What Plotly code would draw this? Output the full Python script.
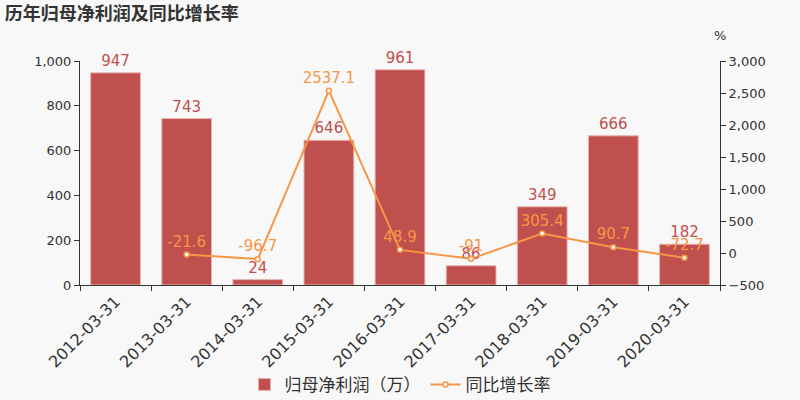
import plotly.graph_objects as go

dates = ["2012-03-31", "2013-03-31", "2014-03-31", "2015-03-31", "2016-03-31",
         "2017-03-31", "2018-03-31", "2019-03-31", "2020-03-31"]
profit = [947, 743, 24, 646, 961, 86, 349, 666, 182]
growth = [None, -21.6, -96.7, 2537.1, 48.9, -91, 305.4, 90.7, -72.7]
growth_text = ["", "-21.6", "-96.7", "2537.1", "48.9", "-91", "305.4", "90.7", "-72.7"]

bar_color = "#c0504d"
line_color = "#f79646"
font_fam = "DejaVu Sans, Noto Sans CJK SC, sans-serif"
cjk = "Noto Sans CJK SC, sans-serif"

fig = go.Figure()
fig.add_trace(go.Bar(
    x=dates, y=profit, name="归母净利润（万）",
    marker=dict(color=bar_color, line=dict(color="#e8b4b2", width=1)),
    text=[str(v) for v in profit], textposition="outside",
    textfont=dict(color=bar_color, size=15, family=font_fam),
    cliponaxis=False,
))
fig.add_trace(go.Scatter(
    x=dates, y=growth, name="同比增长率", yaxis="y2",
    mode="lines+markers+text",
    line=dict(color=line_color, width=2),
    marker=dict(color="white", size=5, line=dict(color=line_color, width=1.5)),
    text=growth_text, textposition="top center",
    textfont=dict(color=line_color, size=15, family=font_fam),
    cliponaxis=False,
))

fig.update_layout(
    width=800, height=400,
    paper_bgcolor="#f8f8f8", plot_bgcolor="#f8f8f8",
    margin=dict(l=80, r=80, t=61, b=115, autoexpand=False),
    font=dict(family=font_fam, color="#333333", size=13),
    bargap=0.3,
    showlegend=True,
    legend=dict(orientation="h", x=0.5, xanchor="center", y=-0.446, yanchor="middle",
                font=dict(size=17, family=cjk, color="#333333"),
                bgcolor="rgba(0,0,0,0)"),
    title=dict(text="<b>历年归母净利润及同比增长率</b>", x=0.006, xanchor="left",
               y=0.965, yanchor="middle",
               font=dict(size=18, family=cjk, color="#333333")),
    xaxis=dict(type="category", tickangle=-45, tickson="boundaries", automargin=False,
               ticks="outside", ticklen=5, tickcolor="#333333",
               showline=True, linecolor="#333333", linewidth=1,
               showgrid=False, tickfont=dict(size=16, color="#333333")),
    yaxis=dict(range=[0, 1000], tickvals=[0, 200, 400, 600, 800, 1000], automargin=False,
               tickformat=",", ticks="outside", ticklen=5, tickcolor="#333333",
               showline=True, linecolor="#333333", linewidth=1,
               showgrid=False, zeroline=False, tickfont=dict(size=13, color="#333333")),
    yaxis2=dict(range=[-500, 3000], tickvals=[-500, 0, 500, 1000, 1500, 2000, 2500, 3000],
                automargin=False,
                tickformat=",", overlaying="y", side="right",
                ticks="outside", ticklen=5, tickcolor="#333333",
                showline=True, linecolor="#333333", linewidth=1,
                showgrid=False, zeroline=False, tickfont=dict(size=13, color="#333333")),
    annotations=[dict(text="%", xref="paper", yref="paper", x=1.0, y=1.07,
                      xanchor="center", yanchor="bottom", showarrow=False,
                      font=dict(size=13, color="#333333"))],
)

fig.write_html("out.html",
               config={"displayModeBar": False},
               post_script="document.body.style.margin='0';document.body.style.background='#f8f8f8';")
